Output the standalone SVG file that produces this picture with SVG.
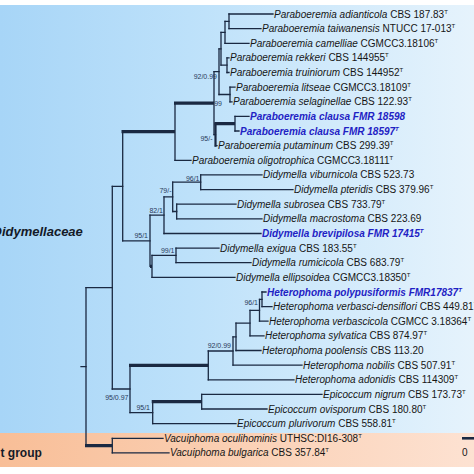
<svg xmlns="http://www.w3.org/2000/svg" width="474" height="474" viewBox="0 0 474 474">
<defs>
<linearGradient id="gBlue" x1="0" y1="0" x2="1" y2="0">
<stop offset="0" stop-color="#a7d5f7"/>
<stop offset="0.4" stop-color="#bde1fa"/>
<stop offset="1" stop-color="#e6f3fc"/>
</linearGradient>
<linearGradient id="gOr" x1="0" y1="0" x2="1" y2="0">
<stop offset="0" stop-color="#f8be97"/>
<stop offset="1" stop-color="#fde2d2"/>
</linearGradient>
<style>
.t{font-family:"Liberation Sans",Arial,sans-serif;font-size:10px;fill:#161616}
.i{font-style:italic}
.hl{font-family:"Liberation Sans",Arial,sans-serif;font-size:10px;font-weight:bold;font-style:italic;fill:#1f22c4}
.sup{font-size:6px}
.bs{font-family:"Liberation Sans",Arial,sans-serif;font-size:7px;fill:#2a3a5a;text-anchor:end}
.ln{fill:none;stroke:#1a2942;stroke-width:1.3;stroke-linecap:square}
.th{fill:none;stroke:#1a2942;stroke-width:3.2;stroke-linecap:butt}
.cl{font-family:"Liberation Sans",Arial,sans-serif;font-weight:bold;fill:#141a28}
</style>
</defs>
<rect x="0" y="0" width="474" height="474" fill="#ffffff"/>
<rect x="0" y="5" width="474" height="428" fill="url(#gBlue)"/>
<rect x="0" y="433" width="474" height="34" fill="url(#gOr)"/>

<g id="connectors">
<path class="ln" d="M229,14 H273 M229,28.6 H261 M225,43.3 H249 M227,57.9 H229 M227,72.5 H229 M230,87.2 H235 M230,101.8 H232 M235,116.4 H249 M235,131 H239 M215.5,145.7 H217 M175,160.3 H191 M200.7,174.9 H262 M200.7,189.6 H293 M176.7,204.2 H236 M176.7,218.8 H262 M164,233.5 H261 M176,248.1 H219 M176,262.7 H251 M152,277.3 H235 M262,292 H266 M262,306.6 H272 M259.5,321.2 H268 M250,335.9 H264 M236,350.5 H261 M233,365.1 H302 M208.3,379.8 H294 M201.7,394.4 H322 M201.7,409 H267 M152.7,423.6 H236 M112.3,438.3 H163 M112.3,452.9 H169"/>
<path class="ln" d="M229,14 V28.6 M225,21.3 V43.3 M227,57.9 V72.5 M221,32.3 V65.2 M230,87.2 V101.8 M219,48.8 V94.5 M235,116.4 V131 M214,71.6 V134.7 M175,103.2 V160.3 M200.7,174.9 V189.6 M176.7,204.2 V218.8 M172.7,182.2 V211.5 M164,196.9 V233.5 M176,248.1 V262.7 M152,255.4 V277.3 M150,215.2 V266.4 M122.7,131.7 V240.8 M262,292 V306.6 M259.5,299.3 V321.2 M250,310.3 V335.9 M236,323.1 V350.5 M233,336.8 V365.1 M208.3,351 V379.8 M201.7,394.4 V409 M152.7,401.7 V423.6 M130,365.4 V412.7 M112.3,186.3 V389 M112.3,438.3 V452.9 M86,287.7 V445.6"/>
<path class="ln" d="M225,21.3 H229 M221,32.3 H225 M221,65.2 H227 M219,48.8 H221 M219,94.5 H230 M219,71.6 H214 M214,134.7 H215.5 M172.7,182.2 H200.7 M172.7,211.5 H176.7 M164,196.9 H172.7 M150,215.2 H164 M152,255.4 H176 M122.7,240.8 H150 M112.3,186.3 H122.7 M259.5,299.3 H262 M250,310.3 H259.5 M236,323.1 H250 M233,336.8 H236 M208.3,351 H233 M130,412.7 H152.7 M112.3,389 H130 M86,287.7 H112.3 M81,366.6 H86"/>
<path class="ln" d="M215.5,123.7 V145.7" style="stroke-width:2.2"/>
<path class="th" d="M214.5,123.7 H235 M174,103.2 H214 M121.5,131.7 H175 M129,365.4 H208.3 M151.7,401.7 H201.7 M85,445.6 H112.3 M150,266.4 H152"/>
<path class="th" d="M462,438.3 H474" style="stroke-width:2.6"/>
</g>

<g id="support">
<text class="bs" x="217" y="79">92/0.99</text>
<text class="bs" x="222" y="105.5">99</text>
<text class="bs" x="212.5" y="141">95/-</text>
<text class="bs" x="199.5" y="180.5">96/1</text>
<text class="bs" x="171.5" y="192.5">79/-</text>
<text class="bs" x="163" y="212.5">82/1</text>
<text class="bs" x="148" y="237.5">95/1</text>
<text class="bs" x="174.5" y="252.5">99/1</text>
<text class="bs" x="258" y="305">96/1</text>
<text class="bs" x="231" y="347.5">92/0.99</text>
<text class="bs" x="128.5" y="400">95/0.97</text>
<text class="bs" x="150" y="409.5">95/1</text>
</g>

<g id="clades">
<text class="cl i" x="-7.5" y="235.5" font-size="13">Didymellaceae</text>
<text class="cl" x="0.5" y="457" font-size="12">t group</text>
<text class="t" x="462" y="455.5" font-size="9">0</text>
</g>

<g id="taxa">
<g id="n01"><text class="t" x="274" y="17.5"><tspan class="i">Paraboeremia adianticola</tspan> CBS 187.83<tspan class="sup" dy="-4">T</tspan></text></g>
<g id="n02"><text class="t" x="262" y="32.1"><tspan class="i">Paraboeremia taiwanensis</tspan> NTUCC 17-013<tspan class="sup" dy="-4">T</tspan></text></g>
<g id="n03"><text class="t" x="250" y="46.8"><tspan class="i">Paraboeremia camelliae</tspan> CGMCC3.18106<tspan class="sup" dy="-4">T</tspan></text></g>
<g id="n04"><text class="t" x="230" y="61.4"><tspan class="i">Paraboeremia rekkeri</tspan> CBS 144955<tspan class="sup" dy="-4">T</tspan></text></g>
<g id="n05"><text class="t" x="230" y="76"><tspan class="i">Paraboeremia truiniorum</tspan> CBS 144952<tspan class="sup" dy="-4">T</tspan></text></g>
<g id="n06"><text class="t" x="236" y="90.7"><tspan class="i">Paraboeremia litseae</tspan> CGMCC3.18109<tspan class="sup" dy="-4">T</tspan></text></g>
<g id="n07"><text class="t" x="233" y="105.3"><tspan class="i">Paraboeremia selaginellae</tspan> CBS 122.93<tspan class="sup" dy="-4">T</tspan></text></g>
<g id="n08"><text class="hl" x="250" y="119.9">Paraboeremia clausa FMR 18598</text></g>
<g id="n09"><text class="hl" x="240" y="134.5">Paraboeremia clausa FMR 18597<tspan class="sup" dy="-4">T</tspan></text></g>
<g id="n10"><text class="t" x="218" y="149.2"><tspan class="i">Paraboeremia putaminum</tspan> CBS 299.39<tspan class="sup" dy="-4">T</tspan></text></g>
<g id="n11"><text class="t" x="192" y="163.8"><tspan class="i">Paraboeremia oligotrophica</tspan> CGMCC3.18111<tspan class="sup" dy="-4">T</tspan></text></g>
<g id="n12"><text class="t" x="263" y="178.4"><tspan class="i">Didymella viburnicola</tspan> CBS 523.73</text></g>
<g id="n13"><text class="t" x="294" y="193.1"><tspan class="i">Didymella pteridis</tspan> CBS 379.96<tspan class="sup" dy="-4">T</tspan></text></g>
<g id="n14"><text class="t" x="237" y="207.7"><tspan class="i">Didymella subrosea</tspan> CBS 733.79<tspan class="sup" dy="-4">T</tspan></text></g>
<g id="n15"><text class="t" x="263" y="222.3"><tspan class="i">Didymella macrostoma</tspan> CBS 223.69</text></g>
<g id="n16"><text class="hl" x="262" y="237">Didymella brevipilosa FMR 17415<tspan class="sup" dy="-4">T</tspan></text></g>
<g id="n17"><text class="t" x="220" y="251.6"><tspan class="i">Didymella exigua</tspan> CBS 183.55<tspan class="sup" dy="-4">T</tspan></text></g>
<g id="n18"><text class="t" x="252" y="266.2"><tspan class="i">Didymella rumicicola</tspan> CBS 683.79<tspan class="sup" dy="-4">T</tspan></text></g>
<g id="n19"><text class="t" x="236" y="280.8"><tspan class="i">Didymella ellipsoidea</tspan> CGMCC3.18350<tspan class="sup" dy="-4">T</tspan></text></g>
<g id="n20"><text class="hl" x="267" y="295.5">Heterophoma polypusiformis FMR17837<tspan class="sup" dy="-4">T</tspan></text></g>
<g id="n21"><text class="t" x="273" y="310.1"><tspan class="i">Heterophoma verbasci-densiflori</tspan> CBS 449.81<tspan class="sup" dy="-4">T</tspan></text></g>
<g id="n22"><text class="t" x="269" y="324.7"><tspan class="i">Heterophoma verbascicola</tspan> CGMCC 3.18364<tspan class="sup" dy="-4">T</tspan></text></g>
<g id="n23"><text class="t" x="265" y="339.4"><tspan class="i">Heterophoma sylvatica</tspan> CBS 874.97<tspan class="sup" dy="-4">T</tspan></text></g>
<g id="n24"><text class="t" x="262" y="354"><tspan class="i">Heterophoma poolensis</tspan> CBS 113.20</text></g>
<g id="n25"><text class="t" x="303" y="368.6"><tspan class="i">Heterophoma nobilis</tspan> CBS 507.91<tspan class="sup" dy="-4">T</tspan></text></g>
<g id="n26"><text class="t" x="295" y="383.3"><tspan class="i">Heterophoma adonidis</tspan> CBS 114309<tspan class="sup" dy="-4">T</tspan></text></g>
<g id="n27"><text class="t" x="323" y="397.9"><tspan class="i">Epicoccum nigrum</tspan> CBS 173.73<tspan class="sup" dy="-4">T</tspan></text></g>
<g id="n28"><text class="t" x="268" y="412.5"><tspan class="i">Epicoccum ovisporum</tspan> CBS 180.80<tspan class="sup" dy="-4">T</tspan></text></g>
<g id="n29"><text class="t" x="237" y="427.1"><tspan class="i">Epicoccum plurivorum</tspan> CBS 558.81<tspan class="sup" dy="-4">T</tspan></text></g>
<g id="n30"><text class="t" x="164" y="441.8"><tspan class="i">Vacuiphoma oculihominis</tspan> UTHSC:DI16-308<tspan class="sup" dy="-4">T</tspan></text></g>
<g id="n31"><text class="t" x="170" y="456.4"><tspan class="i">Vacuiphoma bulgarica</tspan> CBS 357.84<tspan class="sup" dy="-4">T</tspan></text></g>
</g>
</svg>
